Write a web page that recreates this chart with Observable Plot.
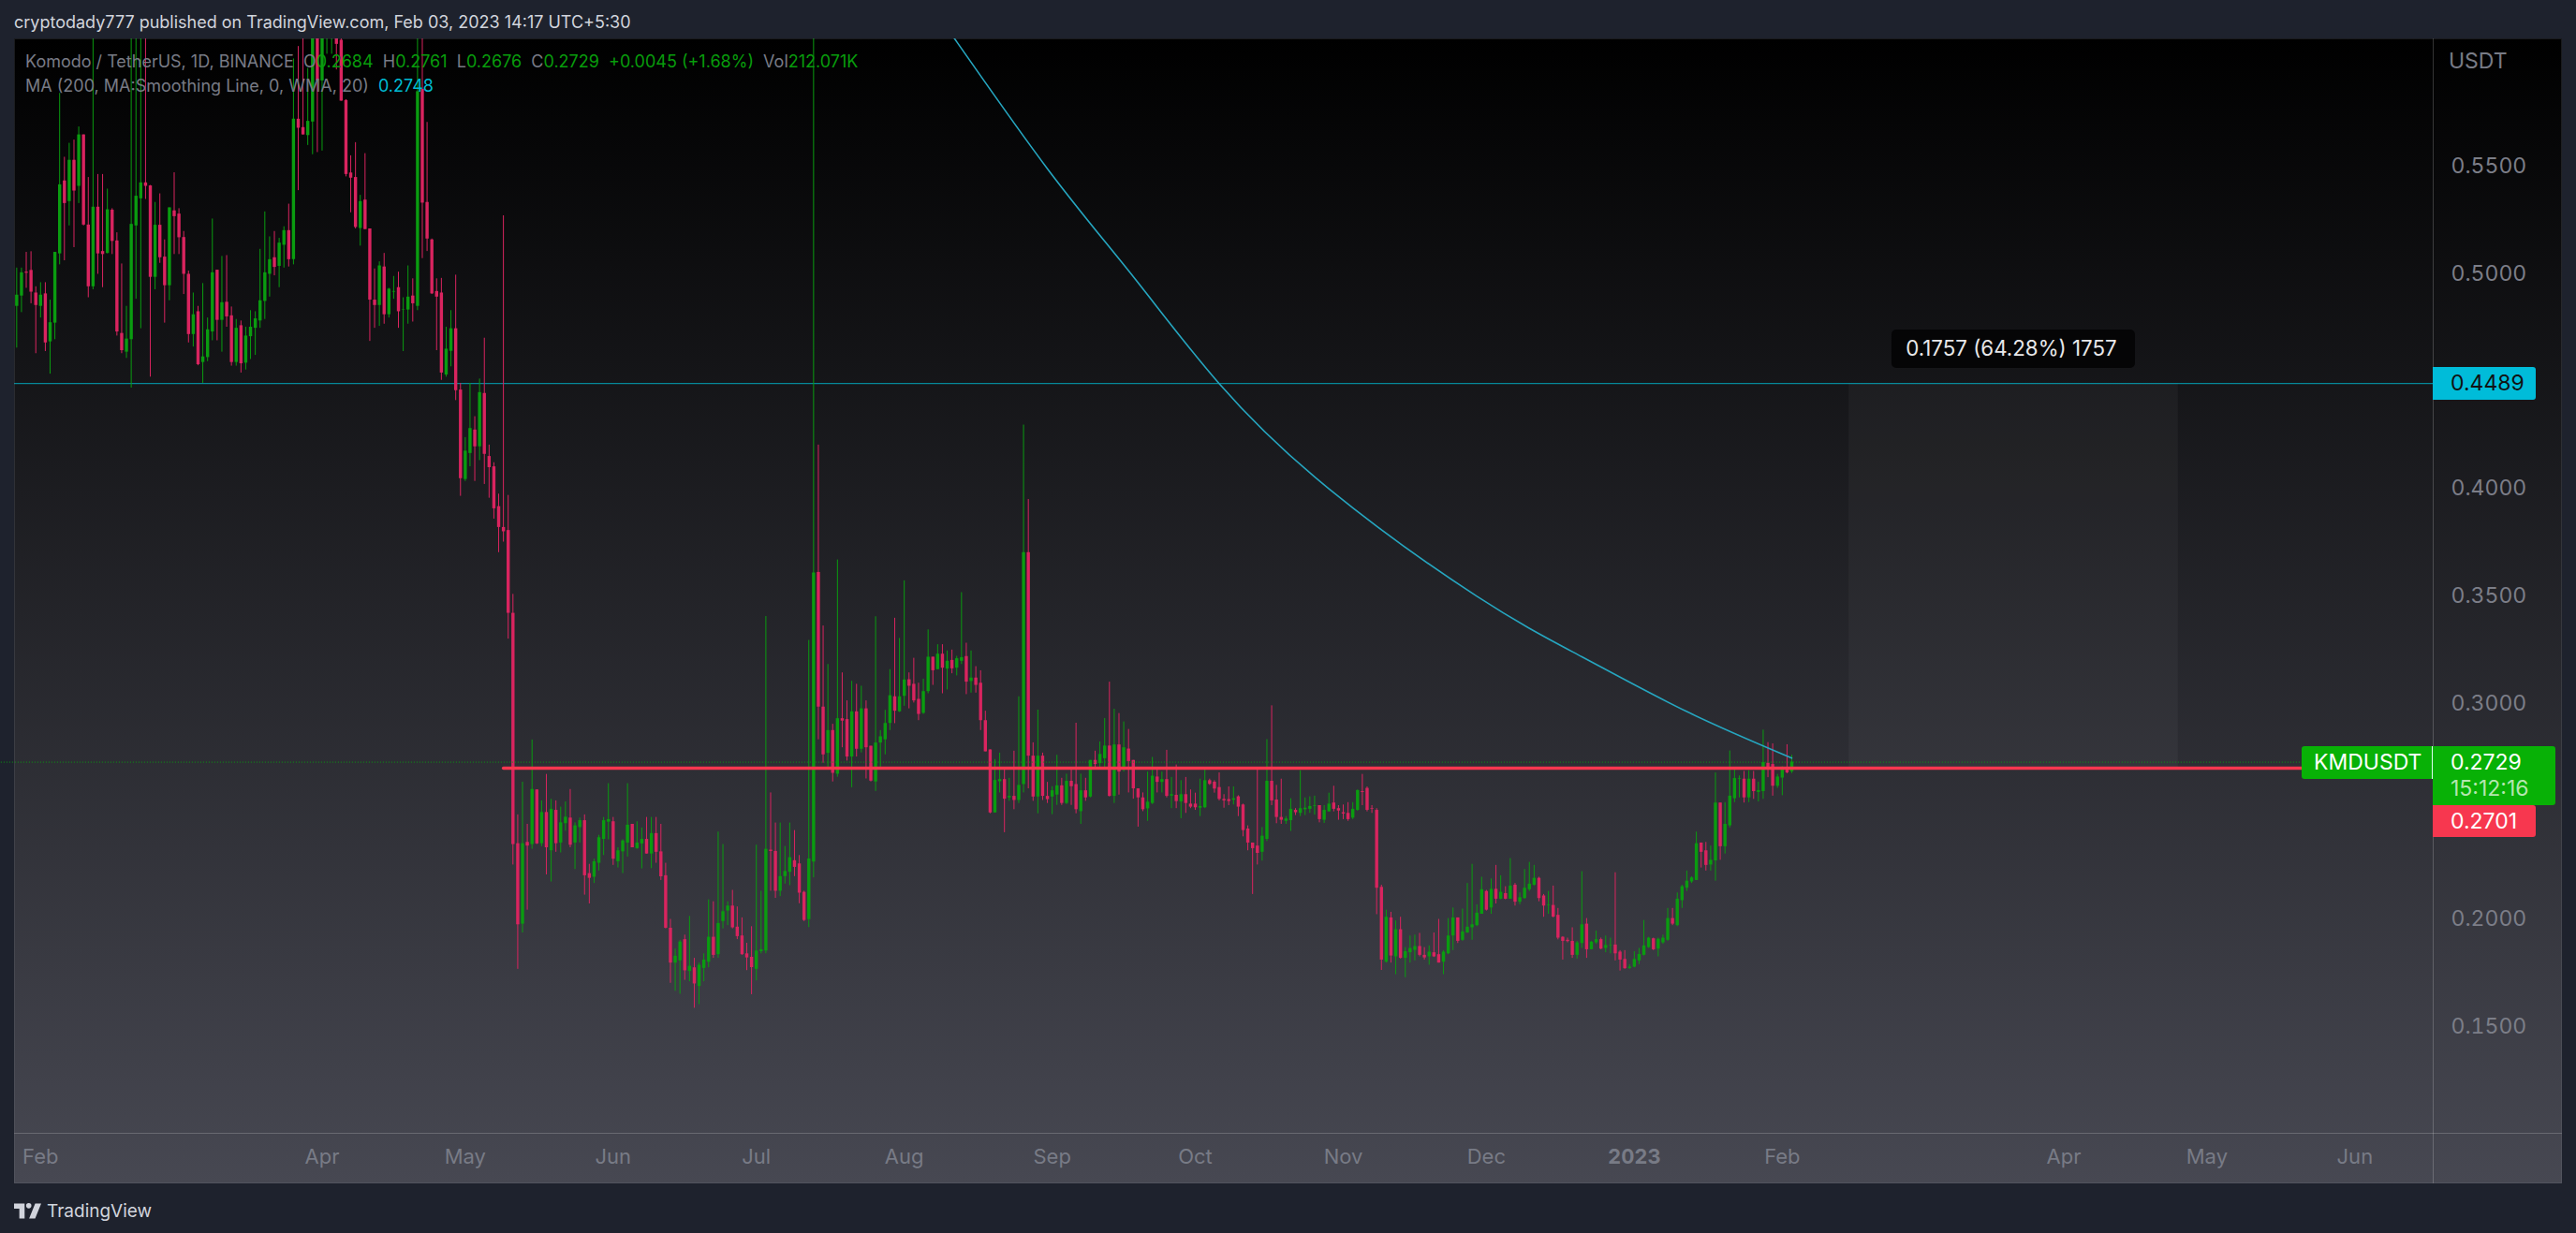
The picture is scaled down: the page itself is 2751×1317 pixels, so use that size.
<!DOCTYPE html>
<html><head><meta charset="utf-8">
<script src="https://cdn.jsdelivr.net/npm/d3@7"></script>
<script src="https://cdn.jsdelivr.net/npm/@observablehq/plot@0.6"></script>
<style>
html,body{margin:0;padding:0;width:2751px;height:1317px;overflow:hidden;background:#1e222d;font-family:Inter,"Liberation Sans",sans-serif}
#head{position:absolute;left:15px;top:13px;font-size:18px;line-height:22px;color:#d1d4dc;white-space:nowrap}
#pane{position:absolute;left:15px;top:41px;width:2721px;height:1223px;background:linear-gradient(#000,#474852)}
#pane svg{display:block}
.line{position:absolute;background:rgba(255,255,255,.2)}
#legend{position:absolute;left:12px;top:12px;font-size:18px;line-height:25.5px;color:#787b86;white-space:pre}
#legend b{font-weight:400;color:#089c0c}
#legend i{font-style:normal;color:#00bcd4}
.tag{position:absolute;border-radius:0 3px 3px 0;font-size:23px;line-height:34px;white-space:nowrap;box-sizing:border-box;padding-left:19px;left:2583px}
#usdt{position:absolute;left:2600px;top:10px;font-size:23px;line-height:28px;color:#787b86}
#foot{position:absolute;left:15px;top:1282px;height:22px;display:flex;align-items:center;gap:6px;color:#d1d4dc;font-size:19px}
</style></head><body>
<div id="head"></div>
<div id="pane"></div>
<div id="foot"><svg width="29" height="17" viewBox="0 0 36 20"><path fill="#d1d4dc" d="M0 0h14v20H7V7H0zM16 3a3.5 3.5 0 1 0 7 0 3.5 3.5 0 1 0-7 0zM28 0h8l-8 20h-8z"/></svg><span>TradingView</span></div>
<script>
// [open, high, low, close] per day
const jan2022 = [[.4848,.5026,.4654,.4900],[.4896,.5026,.4819,.5004],[.5007,.5099,.4932,.5002],[.5015,.5102,.4860,.4914],[.4910,.4939,.4628,.4852]];
const feb2022 = [[.4848,.4958,.4794,.4900],[.4906,.4958,.4638,.4678],[.4683,.4877,.4533,.4772],[.4770,.5099,.4693,.5099],[.5092,.5838,.5041,.5413],[.5431,.5541,.5060,.5326],[.5335,.5606,.5222,.5527],[.5527,.5621,.5121,.5384],[.5406,.5682,.5326,.5645],[.5645,.5645,.5222,.5226],[.5226,.5447,.4888,.4939],[.4939,.6400,.4925,.5309],[.5309,.5461,.4997,.5092],[.5103,.5461,.4935,.5089],[.5094,.5393,.5092,.5297],[.5295,.5302,.5089,.5150],[.5152,.5190,.4710,.4729],[.4722,.5045,.4628,.4642],[.4635,.4848,.4606,.4696],[.4693,.6500,.4468,.5229],[.5222,.6600,.4881,.5360],[.5348,.6300,.4744,.5422],[.5422,.6400,.5345,.5406],[.5408,.5410,.4519,.4983],[.4983,.5331,.4925,.5225],[.5225,.5371,.5048,.5074],[.5077,.5157,.4770,.4944],[.4944,.5306,.4874,.5306]];
const mar2022 = [[.5292,.5469,.5089,.5265],[.5277,.5302,.5089,.5167],[.5168,.5196,.4903,.4997],[.4997,.5012,.4678,.4717],[.4717,.4910,.4659,.4809],[.4823,.4848,.4572,.4577],[.4587,.4954,.4490,.4613],[.4610,.4794,.4591,.4739],[.4729,.5254,.4688,.5004],[.5016,.5016,.4688,.4783],[.4783,.5080,.4635,.4865],[.4867,.5084,.4751,.4799],[.4804,.4845,.4570,.4587],[.4587,.4787,.4570,.4746],[.4758,.4780,.4538,.4581],[.4584,.4751,.4552,.4710],[.4707,.4828,.4601,.4751],[.4746,.4823,.4620,.4790],[.4780,.5113,.4746,.4874],[.4871,.5287,.4787,.5004],[.4997,.5171,.4891,.5065],[.5074,.5196,.4990,.5029],[.5034,.5164,.4935,.5142],[.5132,.5218,.5026,.5200],[.5200,.5323,.5031,.5065],[.5065,.5998,.5041,.5718],[.5718,.6056,.5386,.5676],[.5679,.6200,.5645,.5645],[.5642,.5954,.5596,.5708],[.5705,.6800,.5553,.6300],[.6500,.7000,.5563,.5896]];
const apr2022 = [[.5896,.7200,.5570,.6800],[.6250,.6600,.6020,.6350],[.6150,.6500,.6020,.6300],[.6200,.6400,.5947,.6066],[.6085,.6300,.5802,.5802],[.5805,.5809,.5450,.5461],[.5468,.5548,.5283,.5444],[.5447,.5609,.5208,.5215],[.5210,.5364,.5128,.5335],[.5342,.5558,.5205,.5205],[.5208,.5208,.4685,.4877],[.4877,.5022,.4746,.4852],[.4852,.5055,.4755,.5036],[.5031,.5094,.4765,.4809],[.4809,.4932,.4794,.4928],[.4914,.4987,.4881,.4917],[.4935,.5007,.4746,.4823],[.4831,.4888,.4638,.4833],[.4831,.5036,.4765,.4891],[.4896,.4976,.4775,.4860],[.4848,.6700,.4828,.5846],[.5857,.6300,.5070,.5328],[.5331,.5703,.5103,.5161],[.5157,.5161,.4903,.4906],[.4917,.4976,.4642,.4891],[.4910,.4978,.4504,.4538],[.4529,.4751,.4519,.4649],[.4639,.4828,.4567,.4744],[.4744,.4993,.4410,.4456],[.4459,.4490,.3965,.4047]];
const may2022 = [[.4043,.4238,.4034,.4175],[.4164,.4490,.4102,.4280],[.4273,.4335,.4034,.4195],[.4195,.4510,.4131,.4447],[.4443,.4700,.4020,.4160],[.4150,.4203,.3956,.4098],[.4102,.4121,.3859,.3907],[.3917,.3975,.3703,.3820],[.3820,.5269,.3752,.3800],[.3806,.3969,.3301,.3421],[.3421,.3509,.2251,.2346],[.2350,.2484,.1766,.1973],[.1976,.2636,.1935,.2350],[.2356,.2440,.2041,.2339],[.2346,.2832,.2324,.2602],[.2600,.2600,.2346,.2349],[.2350,.2549,.2336,.2495],[.2495,.2672,.2205,.2331],[.2317,.2556,.2172,.2510],[.2505,.2549,.2310,.2350],[.2353,.2520,.2307,.2447],[.2443,.2544,.2408,.2473],[.2469,.2602,.2331,.2343],[.2353,.2447,.2230,.2433],[.2425,.2469,.2353,.2457],[.2457,.2484,.2111,.2201],[.2211,.2254,.2070,.2189],[.2194,.2278,.2165,.2266],[.2259,.2389,.2223,.2378],[.2370,.2472,.2295,.2457],[.2450,.2629,.2368,.2462]];
const jun2022 = [[.2452,.2472,.2249,.2278],[.2266,.2331,.2237,.2317],[.2312,.2368,.2211,.2363],[.2353,.2629,.2288,.2436],[.2440,.2440,.2331,.2331],[.2327,.2452,.2324,.2353],[.2349,.2423,.2233,.2370],[.2370,.2472,.2302,.2302],[.2302,.2472,.2234,.2397],[.2397,.2472,.2259,.2310],[.2312,.2440,.2179,.2196],[.2201,.2259,.1954,.1957],[.1957,.1998,.1701,.1795],[.1795,.1860,.1664,.1827],[.1805,.1901,.1650,.1893],[.1904,.1925,.1715,.1759],[.1756,.2012,.1708,.1780],[.1773,.1817,.1585,.1698],[.1686,.1795,.1602,.1785],[.1770,.1838,.1708,.1809],[.1799,.2089,.1773,.1915],[.1915,.2080,.1817,.1831],[.1834,.2404,.1817,.1979],[.1988,.2346,.1954,.2034],[.2037,.2080,.1969,.2060],[.2060,.2133,.1954,.1959],[.1962,.2056,.1904,.1918],[.1921,.2005,.1831,.1834],[.1838,.1887,.1760,.1819],[.1822,.1964,.1648,.1774]];
const jul2022 = [[.1766,.2343,.1712,.1851],[.1848,.2129,.1838,.1857],[.1851,.3406,.1838,.2324],[.2320,.2586,.2129,.2314],[.2314,.2446,.2096,.2129],[.2129,.2446,.2104,.2197],[.2197,.2337,.2162,.2221],[.2217,.2446,.2155,.2285],[.2271,.2411,.2197,.2240],[.2256,.2295,.2071,.2120],[.2124,.2129,.1988,.1993],[.1997,.3295,.1960,.2279],[.2265,.6600,.2191,.3608],[.3611,.4203,.2833,.2985],[.2985,.3362,.2724,.2763],[.2770,.3183,.2702,.2876],[.2876,.2905,.2637,.2677],[.2673,.3669,.2659,.2931],[.2931,.3144,.2796,.2920],[.2927,.3014,.2734,.2753],[.2753,.3105,.2610,.2963],[.2963,.3091,.2753,.2789],[.2789,.3082,.2772,.2977],[.2977,.3014,.2651,.2796],[.2803,.2803,.2637,.2641],[.2637,.3405,.2593,.2818],[.2818,.2876,.2695,.2847],[.2833,.2970,.2763,.2909],[.2909,.3159,.2876,.3038],[.3033,.3398,.2908,.2966],[.2963,.3304,.2960,.3033]];
const aug2022 = [[.3035,.3572,.2989,.3111],[.3112,.3144,.2977,.3082],[.3091,.3212,.3004,.3014],[.3021,.3096,.2922,.2951],[.2956,.3115,.2951,.3057],[.3057,.3344,.3047,.3217],[.3217,.3217,.3086,.3154],[.3159,.3275,.3159,.3231],[.3231,.3275,.3047,.3166],[.3162,.3246,.3065,.3198],[.3202,.3250,.3140,.3163],[.3166,.3221,.3130,.3210],[.3198,.3517,.3183,.3215],[.3220,.3282,.3043,.3101],[.3104,.3246,.3050,.3120],[.3120,.3173,.3050,.3086],[.3096,.3154,.2876,.2922],[.2922,.2966,.2777,.2777],[.2786,.2786,.2489,.2493],[.2493,.2741,.2493,.2644],[.2638,.2771,.2586,.2648],[.2648,.2693,.2401,.2557],[.2563,.2654,.2547,.2570],[.2570,.2780,.2508,.2551],[.2551,.3033,.2537,.2621],[.2625,.4296,.2586,.3703],[.3703,.3950,.2605,.2757],[.2757,.2819,.2547,.2567],[.2567,.2971,.2489,.2757],[.2757,.2771,.2551,.2570],[.2570,.2635,.2537,.2555]];
const sep2022 = [[.2567,.2615,.2485,.2596],[.2576,.2761,.2528,.2619],[.2619,.2654,.2528,.2537],[.2537,.2673,.2532,.2640],[.2640,.2693,.2528,.2615],[.2625,.2910,.2489,.2508],[.2499,.2673,.2440,.2596],[.2596,.2654,.2547,.2563],[.2567,.2737,.2563,.2737],[.2737,.2780,.2693,.2718],[.2722,.2823,.2693,.2765],[.2745,.2932,.2693,.2804],[.2804,.3101,.2567,.2570],[.2570,.2975,.2537,.2809],[.2809,.2955,.2576,.2683],[.2693,.2916,.2683,.2796],[.2790,.2881,.2586,.2732],[.2737,.2737,.2557,.2605],[.2605,.2605,.2427,.2563],[.2563,.2586,.2499,.2508],[.2512,.2683,.2454,.2543],[.2537,.2751,.2532,.2664],[.2660,.2693,.2586,.2635],[.2635,.2683,.2586,.2648],[.2648,.2784,.2563,.2570],[.2571,.2658,.2513,.2578],[.2575,.2716,.2513,.2546],[.2544,.2643,.2466,.2578],[.2578,.2658,.2491,.2537],[.2534,.2600,.2513,.2520]];
const oct2022 = [[.2534,.2585,.2505,.2517],[.2515,.2650,.2476,.2523],[.2517,.2694,.2513,.2643],[.2643,.2650,.2621,.2626],[.2636,.2643,.2585,.2604],[.2611,.2679,.2549,.2556],[.2556,.2578,.2515,.2549],[.2555,.2614,.2527,.2546],[.2552,.2614,.2530,.2559],[.2568,.2573,.2476,.2520],[.2530,.2534,.2382,.2411],[.2418,.2433,.2317,.2353],[.2353,.2353,.2114,.2327],[.2339,.2694,.2251,.2305],[.2310,.2425,.2269,.2385],[.2370,.2834,.2360,.2640],[.2640,.2991,.2527,.2549],[.2553,.2621,.2443,.2472],[.2472,.2650,.2440,.2459],[.2454,.2476,.2440,.2465],[.2457,.2559,.2407,.2510],[.2505,.2513,.2481,.2494],[.2491,.2689,.2476,.2513],[.2508,.2563,.2481,.2515],[.2510,.2568,.2491,.2523],[.2524,.2571,.2483,.2527],[.2527,.2527,.2447,.2462],[.2459,.2527,.2444,.2505],[.2498,.2585,.2498,.2534],[.2539,.2617,.2498,.2510],[.2513,.2527,.2459,.2502]];
const nov2022 = [[.2494,.2530,.2462,.2488],[.2491,.2541,.2454,.2462],[.2469,.2541,.2462,.2510],[.2505,.2600,.2501,.2597],[.2592,.2672,.2527,.2588],[.2607,.2614,.2498,.2505],[.2513,.2527,.2491,.2510],[.2505,.2513,.2020,.2143],[.2147,.2157,.1761,.1809],[.1799,.2041,.1795,.2008],[.2005,.2031,.1795,.1828],[.1824,.1991,.1741,.1950],[.1950,.2008,.1814,.1817],[.1817,.1867,.1727,.1848],[.1843,.1921,.1795,.1863],[.1854,.1925,.1805,.1872],[.1872,.1933,.1824,.1831],[.1831,.1867,.1809,.1819],[.1824,.1875,.1785,.1846],[.1843,.1935,.1821,.1824],[.1834,.1998,.1795,.1795],[.1799,.1853,.1741,.1846],[.1838,.2002,.1834,.1921],[.1921,.2051,.1853,.2005],[.2005,.2005,.1886,.1896],[.1901,.2046,.1896,.1940],[.1935,.2165,.1933,.1962],[.1959,.2254,.1901,.1973],[.1969,.2066,.1964,.2027],[.2022,.2194,.2022,.2136]];
const dec2022 = [[.2128,.2133,.2037,.2041],[.2051,.2186,.2022,.2138],[.2138,.2249,.2070,.2092],[.2092,.2201,.2089,.2124],[.2118,.2150,.2089,.2092],[.2092,.2281,.2092,.2153],[.2157,.2165,.2060,.2078],[.2078,.2121,.2066,.2099],[.2095,.2230,.2092,.2143],[.2136,.2263,.2128,.2162],[.2157,.2249,.2153,.2189],[.2189,.2194,.2080,.2095],[.2107,.2114,.2008,.2060],[.2063,.2128,.2022,.2066],[.2063,.2153,.2005,.2009],[.2017,.2049,.1903,.1911],[.1915,.1918,.1809,.1896],[.1901,.1911,.1889,.1895],[.1896,.1959,.1817,.1831],[.1831,.1896,.1814,.1889],[.1886,.2220,.1863,.1973],[.1976,.2002,.1817,.1857],[.1857,.1896,.1857,.1892],[.1889,.1944,.1882,.1904],[.1904,.1911,.1857,.1860],[.1863,.1921,.1843,.1877],[.1875,.1911,.1838,.1877],[.1879,.2215,.1805,.1838],[.1846,.1853,.1758,.1809],[.1812,.1853,.1766,.1769],[.1770,.1788,.1766,.1776]];
const jan2023 = [[.1776,.1848,.1773,.1812],[.1805,.1863,.1788,.1835],[.1831,.1993,.1828,.1875],[.1867,.1915,.1863,.1911],[.1908,.1911,.1853,.1857],[.1860,.1911,.1824,.1906],[.1889,.1925,.1882,.1911],[.1901,.2049,.1896,.2002],[.2002,.2049,.1969,.1976],[.1969,.2121,.1964,.2092],[.2085,.2157,.2049,.2150],[.2143,.2223,.2128,.2176],[.2172,.2196,.2165,.2191],[.2179,.2404,.2179,.2350],[.2353,.2353,.2237,.2310],[.2317,.2356,.2223,.2249],[.2251,.2339,.2223,.2273],[.2270,.2679,.2176,.2539],[.2539,.2539,.2273,.2336],[.2336,.2541,.2302,.2440],[.2433,.2781,.2423,.2571],[.2559,.2694,.2541,.2653],[.2650,.2665,.2563,.2653],[.2650,.2686,.2539,.2563],[.2563,.2689,.2541,.2650],[.2650,.2686,.2556,.2592],[.2588,.2636,.2544,.2597],[.2592,.2878,.2556,.2727],[.2724,.2820,.2657,.2704],[.2718,.2814,.2571,.2617],[.2617,.2672,.2607,.2660]];
const feb2023 = [[.2655,.2708,.2573,.2704],[.2701,.2810,.2675,.2679],[.2684,.2761,.2676,.2729]];

const firstDay = new Date(Date.UTC(2022, 0, 27));
const maDates = ["2022-08-05","2022-08-12","2022-08-31","2022-09-18","2022-10-06","2022-10-29","2022-11-29","2022-12-21","2023-01-12","2023-02-03"];
const maValues = [.6292,.6078,.5488,.4986,.4489,.4000,.3500,.3219,.2964,.2748];

const priceTicks = [.15,.2,.3,.35,.4,.5,.55];
const timeTickDates = ["2022-02-01","2022-04-01","2022-05-01","2022-06-01","2022-07-01","2022-08-01","2022-09-01","2022-10-01","2022-11-01","2022-12-01","2023-02-01","2023-04-01","2023-05-01","2023-06-01"];
const timeTickLabels = ["Feb","Apr","May","Jun","Jul","Aug","Sep","Oct","Nov","Dec","Feb","Apr","May","Jun"];
const yearTickDates = ["2023-01-01"];
const yearTickLabels = ["2023"];

const resistance = 0.4489, support = 0.2701, lastClose = 0.2729;
const rangeDates = ["2023-02-15","2023-04-25"];
const supportDates = ["2022-05-09","2023-05-21"];
const measureLabel = "0.1757 (64.28%) 1757";
const measureBoxDates = ["2023-02-24","2023-04-16"];
const measureBoxPrices = [.4560,.4738];
const measureLabelDate = "2023-03-21";
const measureLabelPrice = .4649;

const publisher = "cryptodady777 published on TradingView.com, Feb 03, 2023 14:17 UTC+5:30";
const titleText = "Komodo / TetherUS, 1D, BINANCE";
const ohlcLegend = [["O","0.2684"],["H","0.2761"],["L","0.2676"],["C","0.2729"]];
const changeText = "+0.0045 (+1.68%)", volText = "212.071K";
const maText = "MA (200, MA:Smoothing Line, 0, WMA, 20)", maLast = "0.2748";
const countdown = "15:12:16", symbol = "KMDUSDT";

const GREEN = "#0a9c10", RED = "#d9245f";
const utc = s => new Date(s + "T00:00:00Z");
const candles = [jan2022,feb2022,mar2022,apr2022,may2022,jun2022,jul2022,aug2022,sep2022,oct2022,nov2022,dec2022,jan2023,feb2023]
  .flat().map(([open,high,low,close],i)=>({date:d3.utcDay.offset(firstDay,i),open,high,low,close,color:close>=open?GREEN:RED}));
const ma = maDates.map((d,i)=>({date:utc(d),value:maValues[i]}));
const pick = (dates,labels)=>dates.map((d,i)=>({date:utc(d),label:labels[i]}));

const font = 'Inter,"Liberation Sans",sans-serif';
const chart = Plot.plot({
  width:2721,height:1223,marginTop:0,marginLeft:0,marginRight:138,marginBottom:54,
  style:{background:"transparent",fontFamily:font,overflow:"visible"},
  x:{type:"utc",domain:[new Date("2022-01-26T13:00:00Z"),new Date("2023-06-17T10:00:00Z")],axis:null},
  y:{domain:[.10036,.60915],axis:null},
  marks:[
    Plot.rect([0],{x1:()=>utc(rangeDates[0]),x2:()=>utc(rangeDates[1]),y1:()=>support,y2:()=>resistance,fill:"#fff",fillOpacity:.035}),
    Plot.ruleY([resistance],{stroke:"#00bcd4",strokeWidth:1,strokeOpacity:.85}),
    Plot.ruleX(candles,{x:"date",y1:"low",y2:"high",stroke:"color",strokeWidth:1,clip:true}),
    Plot.ruleX(candles,{x:"date",y1:"open",y2:"close",stroke:"color",strokeWidth:3.4,clip:true}),
    Plot.ruleY([lastClose],{stroke:"#0a9c10",strokeWidth:1,strokeDasharray:"1 2",x2:()=>utc(supportDates[1])}),
    Plot.line([support,support],{x:(d,i)=>utc(supportDates[i]),y:d=>d,stroke:"#f7374f",strokeWidth:3.5}),
    Plot.line(ma,{x:"date",y:"value",stroke:"#26a6c0",strokeWidth:1.6,curve:"natural",clip:true}),
    Plot.rect([0],{x1:()=>utc(measureBoxDates[0]),x2:()=>utc(measureBoxDates[1]),y1:()=>measureBoxPrices[0],y2:()=>measureBoxPrices[1],fill:"#050506",rx:5}),
    Plot.text([measureLabel],{x:()=>utc(measureLabelDate),y:()=>measureLabelPrice,text:d=>d,fill:"#e8e8ea",fontSize:22.3,fontFamily:font}),
    Plot.axisY({anchor:"right",ticks:priceTicks,tickFormat:d3.format(".4f"),tickSize:0,tickPadding:19,fontSize:23,fill:"#7c7e88",label:null}),
    Plot.axisX(pick(timeTickDates,timeTickLabels),{x:"date",text:"label",tickSize:0,tickPadding:17,fontSize:22,fill:"#787b86",label:null}),
    Plot.axisX(pick(yearTickDates,yearTickLabels),{x:"date",text:"label",tickSize:0,tickPadding:17,fontSize:22,fontWeight:700,fill:"#787b86",label:null})
  ]
});
const pane = document.getElementById("pane");
pane.appendChild(chart);

document.getElementById("head").textContent = publisher;
const legend = document.createElement("div");
legend.id = "legend";
legend.innerHTML = `${titleText}  ` + ohlcLegend.map(([k,v])=>`${k}<b>${v}</b>`).join("  ") + `  <b>${changeText}</b>  Vol<b>${volText}</b>\n${maText}  <i>${maLast}</i>`;
pane.appendChild(legend);
const add = (cls,css,txt)=>{const e=document.createElement("div");e.className=cls;e.style.cssText=css;if(txt)e.textContent=txt;pane.appendChild(e);return e;};
add("line","left:2583px;top:0;width:1px;height:1223px");
add("line","left:0;top:1169px;width:2721px;height:1px");
add("","position:absolute;inset:0;box-shadow:inset 0 0 0 1px rgba(120,123,134,.22);pointer-events:none");
const usdt = add("","","USDT"); usdt.id="usdt";
const yS = chart.scale("y");
const yBlue = yS.apply(resistance), yGreen = yS.apply(lastClose);
add("tag",`top:${yBlue-17.5}px;width:110px;height:35px;background:#00bcd9;color:#111`,resistance.toFixed(4));
const g = add("tag",`top:${yGreen-17}px;width:131px;height:63px;background:#08b106;color:#fff`);
g.innerHTML = `${lastClose.toFixed(4)}<div style="margin-top:-6px;color:#b5e6b0">${countdown}</div>`;
add("tag",`top:${yGreen+46}px;width:110px;height:34px;background:#f7374f;color:#fff`,support.toFixed(4));
add("tag",`top:${yGreen-17}px;left:2443px;width:140px;height:35px;padding-left:13px;background:#08b106;color:#fff;border-radius:3px 0 0 3px;border-right:1px solid #dfe`,symbol);
</script>
</body></html>
